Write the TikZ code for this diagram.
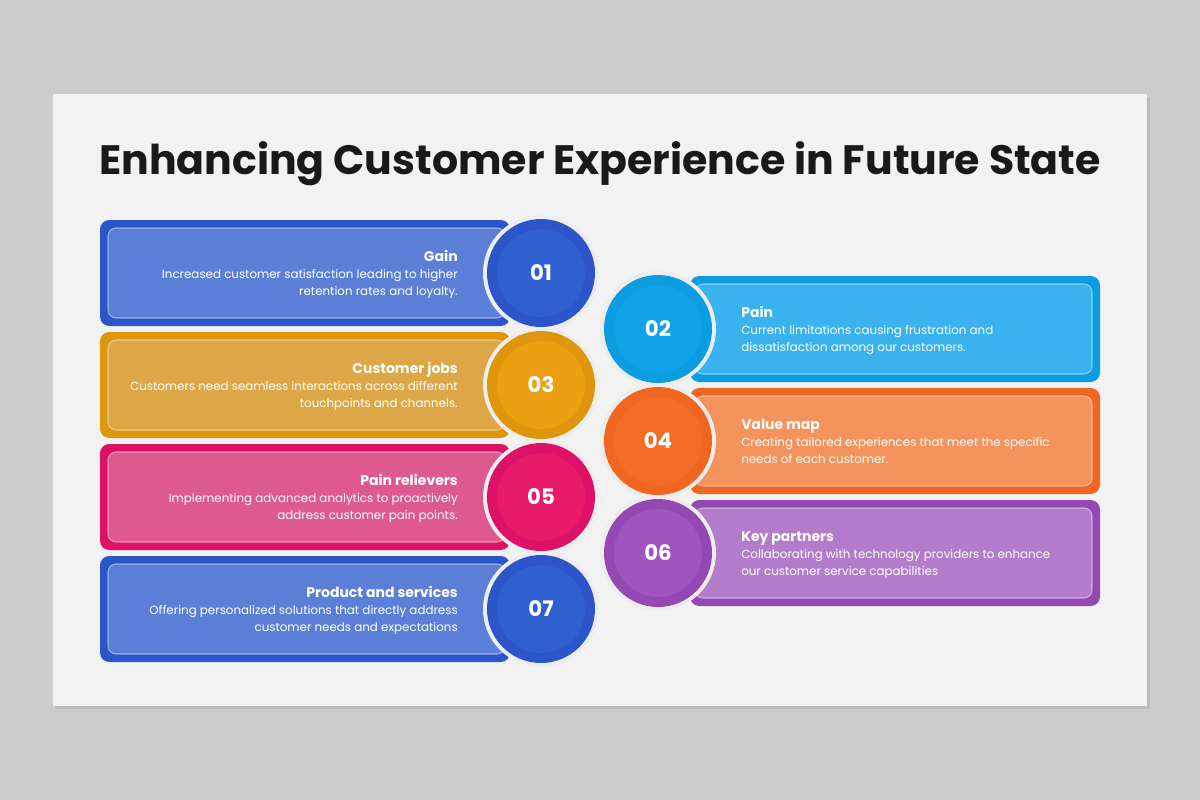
\documentclass[tikz,border=0pt]{standalone}
\usepackage{fontspec}
\setmainfont{Poppins}
\begin{document}
\begin{tikzpicture}[x=0.75pt,y=-0.75pt,
  bar/.style={rounded corners=7pt},
  panel/.style={rounded corners=6pt,draw=white,draw opacity=0.45,line width=0.8pt},
  ttl/.style={font=\bfseries\fontsize{10.5}{12}\selectfont,text=white,inner sep=0},
  dsc/.style={font=\fontsize{8.9}{13}\selectfont,text=white,inner sep=0},
  num/.style={font=\bfseries\fontsize{16}{18}\selectfont,text=white}]
\definecolor{bgray}{HTML}{CCCCCC}
\definecolor{slide}{HTML}{F2F2F2}
\definecolor{ring}{HTML}{EDEDED}
\definecolor{bluA}{HTML}{2B55C8}\definecolor{bluB}{HTML}{5B7FD6}\definecolor{bluC}{HTML}{3060D0}
\definecolor{orgA}{HTML}{DE960C}\definecolor{orgB}{HTML}{DDA646}\definecolor{orgC}{HTML}{EBA012}
\definecolor{pnkA}{HTML}{DD1166}\definecolor{pnkB}{HTML}{DE5A8E}\definecolor{pnkC}{HTML}{E81A6A}
\definecolor{cyaA}{HTML}{0C9CE0}\definecolor{cyaB}{HTML}{3AB2EE}\definecolor{cyaC}{HTML}{10A2E6}
\definecolor{redA}{HTML}{F06520}\definecolor{redB}{HTML}{F5935C}\definecolor{redC}{HTML}{F46D28}
\definecolor{purA}{HTML}{9448B4}\definecolor{purB}{HTML}{B27CCA}\definecolor{purC}{HTML}{9E55BE}
\fill[bgray] (0,0) rectangle (1200,800);
\fill[black,opacity=0.08] (55,97) rectangle (1150,709);
\fill[slide] (53,94) rectangle (1147,706);
\node[font=\bfseries\fontsize{30.8}{34}\selectfont,text=black!90] (title) at (600,164) {Enhancing Customer Experience in Future State};
% left items
\foreach \y/\c/\n/\t/\la/\lb [count=\i] in {
 220/blu/01/Gain/Increased customer satisfaction leading to higher/retention rates and loyalty.,
 332/org/03/Customer jobs/Customers need seamless interactions across different/touchpoints and channels.,
 444/pnk/05/Pain relievers/Implementing advanced analytics to proactively/address customer pain points.,
 556/blu/07/Product and services/Offering personalized solutions that directly address/customer needs and expectations}{
 \fill[bar,\c A] (100,\y) rectangle (510,\y+106);
 \draw[panel,fill=\c B] (108,\y+8) rectangle (505,\y+98);
 \fill[ring] (541,\y+53) circle (58);
 \fill[\c A] (541,\y+53) circle (54);
 \fill[\c C] (541,\y+53) circle (44);
 \node[num] (nl\i) at (541,\y+53) {\n};
 \node[ttl,anchor=base east] (tl\i) at (458,\y+41) {\t};
 \node[dsc,anchor=base east] (al\i) at (458,\y+58) {\la};
 \node[dsc,anchor=base east] (bl\i) at (458,\y+75) {\lb};
}
% right items
\foreach \y/\c/\n/\t/\la/\lb [count=\i] in {
 276/cya/02/Pain/Current limitations causing frustration and/dissatisfaction among our customers.,
 388/red/04/Value map/Creating tailored experiences that meet the specific/needs of each customer.,
 500/pur/06/Key partners/Collaborating with technology providers to enhance/our customer service capabilities}{
 \fill[bar,\c A] (690,\y) rectangle (1100,\y+106);
 \draw[panel,fill=\c B] (695,\y+8) rectangle (1092,\y+98);
 \fill[ring] (658,\y+53) circle (58);
 \fill[\c A] (658,\y+53) circle (54);
 \fill[\c C] (658,\y+53) circle (44);
 \node[num] (nr\i) at (658,\y+53) {\n};
 \node[ttl,anchor=base west] (tr\i) at (741,\y+41) {\t};
 \node[dsc,anchor=base west] (ar\i) at (741,\y+58) {\la};
 \node[dsc,anchor=base west] (br\i) at (741,\y+75) {\lb};
}
\end{tikzpicture}
\end{document}
